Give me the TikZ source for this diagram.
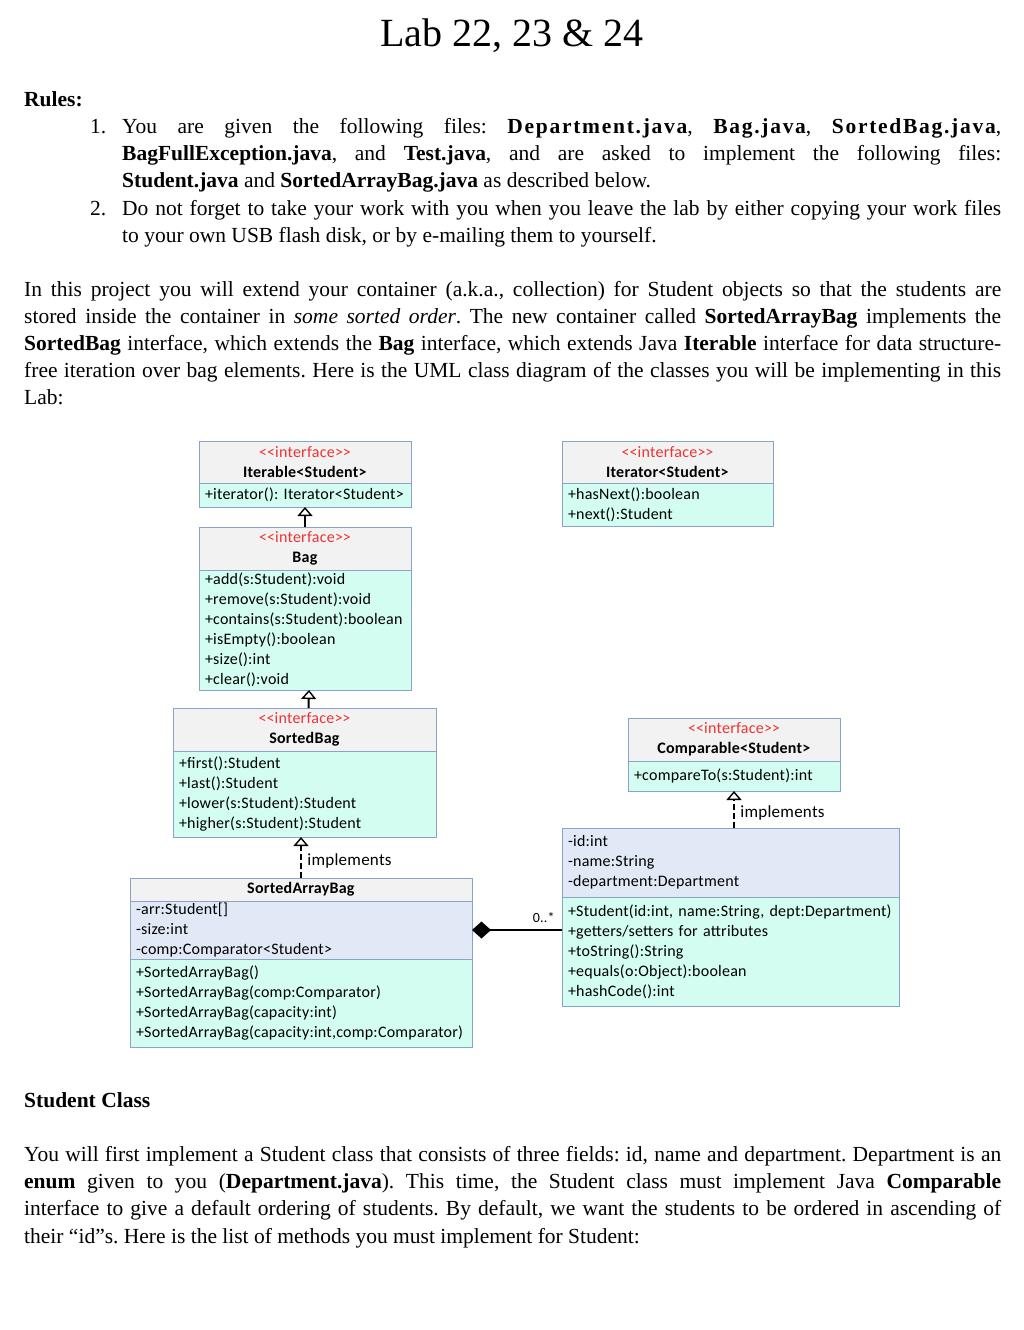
\documentclass[tikz,border=0pt]{standalone}
\usepackage{fontspec}
\setmainfont{Liberation Serif}
\newfontfamily\umlfont[LetterSpace=1.5]{Carlito}
\usetikzlibrary{positioning, calc, arrows.meta}
\definecolor{umlgray}{HTML}{F2F2F2}
\definecolor{umlcyan}{HTML}{D2FDF0}
\definecolor{umlblue}{HTML}{E0E9F5}
\definecolor{umlline}{HTML}{8AA4C8}
\definecolor{umlred}{HTML}{EE3333}
\tikzset{
	box/.style={draw=umlline, line width=1pt, outer sep=0pt, inner xsep=6pt, inner ysep=0pt,
		font=\umlfont\fontsize{16}{20}\selectfont},
	head/.style={box, fill=umlgray, align=center},
	attrs/.style={box, fill=umlblue, align=left},
	meths/.style={box, fill=umlcyan, align=left},
	extends/.style={line width=2pt, -{Triangle[open, length=9pt, width=15pt, line width=1.4pt]}},
	realizes/.style={extends, line width=2.8pt, dash pattern=on 6pt off 3pt},
	composition/.style={line width=2.6pt, -{Diamond[length=19pt, width=17pt]}},
	textline/.style={anchor=base west, inner sep=0pt, font=\fontsize{21.5}{27}\selectfont},
	relname/.style={font=\umlfont\fontsize{17}{19}\selectfont, inner sep=0pt},
}
\newcommand{\ifacelabel}{\textcolor{umlred}{<\kern0pt<interface>\kern0pt>}}
\newcommand{\widebf}[1]{{\bfseries\addfontfeature{LetterSpace=8}#1}}

\begin{document}
\frenchspacing
\begin{tikzpicture}[x=1pt, y=-1pt]
	\useasboundingbox[fill=white] (0,0) rectangle (1024,1330);

	% page text above the diagram
	\node[anchor=base, inner sep=0pt, font=\fontsize{40}{48}\selectfont] (title) at (512,47) {Lab 22, 23 \& 24};
	\node[textline] (rules) at (24,106) {\textbf{Rules:}};
	\node[textline] (n1) at (90,133) {1.};
	\node[textline] (r1) at (122,133) {\makebox[879pt][s]{You are given the following files: \widebf{Department.java}, \widebf{Bag.java}, \widebf{SortedBag.java},}};
	\node[textline] (r2) at (122,160) {\makebox[879pt][s]{\textbf{BagFullException.java}, and \textbf{Test.java}, and are asked to implement the following files:}};
	\node[textline] (r3) at (122,187) {\textbf{Student.java} and \textbf{SortedArrayBag.java} as described below.};
	\node[textline] (n2) at (90,215) {2.};
	\node[textline] (r4) at (122,215) {\makebox[879pt][s]{Do not forget to take your work with you when you leave the lab by either copying your work files}};
	\node[textline] (r5) at (122,242) {to your own USB flash disk, or by e-mailing them to yourself.};

	\node[textline] (p1) at (24,296) {\makebox[977pt][s]{In this project you will extend your container (a.k.a., collection) for Student objects so that the students are}};
	\node[textline] (p2) at (24,323) {\makebox[977pt][s]{stored inside the container in \textit{some sorted order}. The new container called \textbf{SortedArrayBag} implements the}};
	\node[textline] (p3) at (24,350) {\makebox[977pt][s]{\textbf{SortedBag} interface, which extends the \textbf{Bag} interface, which extends Java \textbf{Iterable} interface for data structure-}};
	\node[textline] (p4) at (24,377) {\makebox[977pt][s]{free iteration over bag elements. Here is the UML class diagram of the classes you will be implementing in this}};
	\node[textline] (p5) at (24,404) {Lab:};

	% Iterable and Iterator
	\node[head, anchor=north west, minimum width=212pt, text width=200pt, minimum height=42pt] (iterH) at (199,441) {\ifacelabel\\\textbf{Iterable<Student>}};
	\node[meths, minimum width=212pt, text width=200pt, minimum height=24pt, below=0pt of iterH] (iterM) {+iterator(): Iterator<Student>};

	\node[head, anchor=north west, minimum width=211pt, text width=199pt, minimum height=42pt] (itorH) at (562,441) {\ifacelabel\\\textbf{Iterator<Student>}};
	\node[meths, minimum width=211pt, text width=199pt, minimum height=43pt, below=0pt of itorH] (itorM) {+hasNext():boolean\\+next():Student};

	% Bag
	\node[head, anchor=north west, minimum width=212pt, text width=200pt, minimum height=43pt] (bagH) at (199,527) {\ifacelabel\\\textbf{Bag}};
	\node[meths, minimum width=212pt, text width=200pt, minimum height=120pt, below=0pt of bagH] (bagM) {+add(s:Student):void\\+remove(s:Student):void\\+contains(s:Student):boolean\\+isEmpty():boolean\\+size():int\\+clear():void};

	% SortedBag
	\node[head, anchor=north west, minimum width=263pt, text width=251pt, minimum height=43pt] (sbH) at (173,708) {\ifacelabel\\\textbf{SortedBag}};
	\node[meths, minimum width=263pt, text width=251pt, minimum height=86pt, below=0pt of sbH] (sbM) {+first():Student\\+last():Student\\+lower(s:Student):Student\\+higher(s:Student):Student};

	% SortedArrayBag
	\node[head, anchor=north west, minimum width=342pt, text width=330pt, minimum height=23pt] (sabH) at (130,878) {\textbf{SortedArrayBag}};
	\node[attrs, minimum width=342pt, text width=330pt, minimum height=58pt, below=0pt of sabH] (sabA) {-arr:Student[]\\-size:int\\-comp:Comparator<Student>};
	\node[meths, minimum width=342pt, text width=330pt, minimum height=88pt, below=0pt of sabA] (sabM) {+SortedArrayBag()\\+SortedArrayBag(comp:Comparator)\\+SortedArrayBag(capacity:int)\\+SortedArrayBag(capacity:int,comp:Comparator)};

	% Comparable and Student
	\node[head, anchor=north west, minimum width=212pt, text width=200pt, minimum height=43pt] (cmpH) at (628,718) {\ifacelabel\\\textbf{Comparable<Student>}};
	\node[meths, minimum width=212pt, text width=200pt, minimum height=30pt, below=0pt of cmpH] (cmpM) {+compareTo(s:Student):int};

	\node[attrs, anchor=north west, minimum width=337pt, text width=325pt, minimum height=69pt] (stA) at (562,828) {-id:int\\-name:String\\-department:Department};
	\node[meths, minimum width=337pt, text width=325pt, minimum height=109pt, below=0pt of stA] (stM) {+Student(id:int, name:String, dept:Department)\\+getters/setters for attributes\\+toString():String\\+equals(o:Object):boolean\\+hashCode():int};

	% relations
	\draw[extends] (bagH.north) -- (iterM.south);
	\draw[extends] ($(sbH.north)+(4,0)$) -- ($(bagM.south)+(4,0)$);
	\draw[realizes] (sabH.north) -- node[relname, midway, right, xshift=5pt, yshift=-3pt] (impl1) {implements} (sabH.north |- sbM.south);
	\draw[realizes] (stA.north -| cmpM.south) -- node[relname, midway, right, xshift=5pt, yshift=-3pt] (impl2) {implements} (cmpM.south);
	\draw[composition] (stM.west |- sabA.east) -- node[pos=0, anchor=south east, inner sep=2pt, xshift=-4pt, yshift=4pt, font=\umlfont\fontsize{14}{16}\selectfont] (mult) {0..*} (sabA.east);

	% page text below the diagram
	\node[textline] (sc) at (24,1107) {\textbf{Student Class}};
	\node[textline] (s1) at (24,1161) {\makebox[977pt][s]{You will first implement a Student class that consists of three fields: id, name and department. Department is an}};
	\node[textline] (s2) at (24,1188) {\makebox[977pt][s]{\textbf{enum} given to you (\textbf{Department.java}). This time, the Student class must implement Java \textbf{Comparable}}};
	\node[textline] (s3) at (24,1215) {\makebox[977pt][s]{interface to give a default ordering of students. By default, we want the students to be ordered in ascending of}};
	\node[textline] (s4) at (24,1243) {their ``id''s. Here is the list of methods you must implement for Student:};
\end{tikzpicture}
\end{document}
